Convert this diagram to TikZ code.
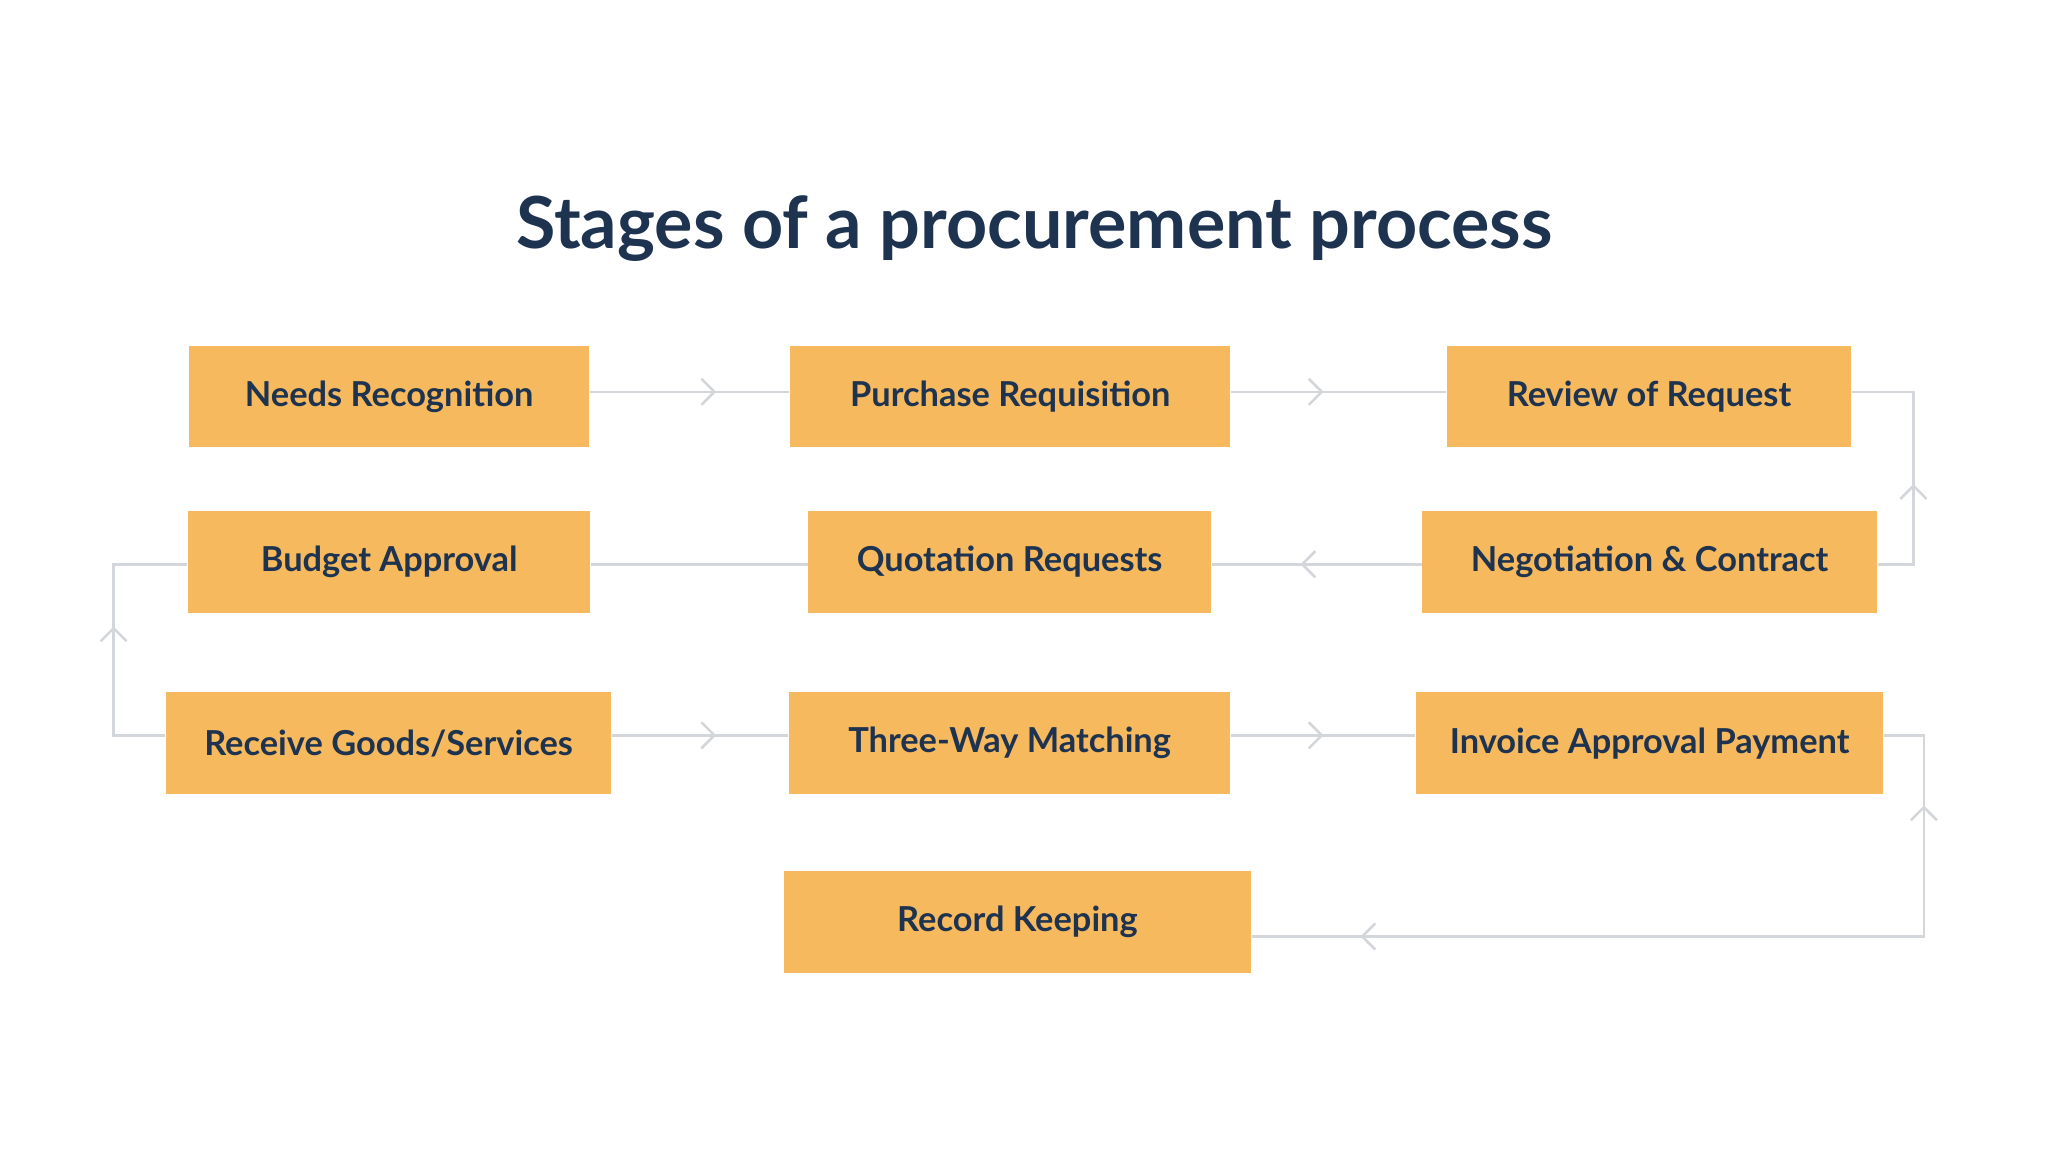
\documentclass[tikz,border=0pt]{standalone}
\usepackage{fontspec}
\setmainfont{Lato}
\definecolor{box}{HTML}{F6B95E}
\definecolor{txt}{HTML}{1E3350}
\definecolor{ln}{HTML}{D3D6DA}
\begin{document}
\begin{tikzpicture}[x=0.3pt,y=-0.3pt,
  b/.style={fill=box,draw=none,inner sep=0pt,text=txt,font=\fontsize{7.9}{9}\selectfont\bfseries},
  c/.style={draw=ln,line width=0.6pt},
  pics/chev/.style={code={\draw[ln,line width=0.6pt] (-6,-10)--(4,0)--(-6,10);}}]
\useasboundingbox (0,0) rectangle (1568,882);
\node[text=txt,font=\fontsize{16.5}{19}\selectfont\bfseries] (title) at (792,175) {Stages of a procurement process};
\newcommand\bx[6]{\node[b,minimum width={(#4-#2)*0.3pt},minimum height={(#5-#3)*0.3pt}] (#1) at ({(#2+#4)/2},{(#3+#5)/2}) {#6};}
\bx{n1}{145}{265}{451}{342}{Needs Recognition}
\bx{n2}{605}{265}{942}{342}{Purchase Requisition}
\bx{n3}{1108}{265}{1417}{342}{Review of Request}
\bx{n4}{144}{391}{452}{469}{Budget Approval}
\bx{n5}{619}{391}{927}{469}{Quotation Requests}
\bx{n6}{1089}{391}{1437}{469}{Negotiation \& Contract}
\bx{n7}{127}{530}{468}{608}{Receive Goods/Services}
\bx{n8}{604}{530}{942}{608}{Three-Way Matching}
\bx{n9}{1084}{530}{1442}{608}{Invoice Approval Payment}
\bx{n10}{600}{667}{958}{745}{Record Keeping}
\coordinate (a1) at (1465,300); \coordinate (a2) at (1465,432);
\coordinate (b1) at (87,432); \coordinate (b2) at (87,563);
\coordinate (d1) at (1473,563); \coordinate (d2) at (1473,717);
\draw[c] (n1.east|-0,300) -- (n2.west|-0,300);
\draw[c] (n2.east|-0,300) -- (n3.west|-0,300);
\draw[c] (n3.east|-0,300) -- (a1) -- (a2) -- (n6.east|-0,432);
\draw[c] (n6.west|-0,432) -- (n5.east|-0,432);
\draw[c] (n5.west|-0,432) -- (n4.east|-0,432);
\draw[c] (n4.west|-0,432) -- (b1) -- (b2) -- (n7.west|-0,563);
\draw[c] (n7.east|-0,563) -- (n8.west|-0,563);
\draw[c] (n8.east|-0,563) -- (n9.west|-0,563);
\draw[c] (n9.east|-0,563) -- (d1) -- (d2) -- (n10.east|-0,717);
\pic at (543,300) {chev}; \pic at (1008,300) {chev};
\pic[rotate=90] at (1465,376) {chev};
\pic[rotate=180] at (1001,432) {chev};
\pic[rotate=90] at (87,485) {chev};
\pic at (543,563) {chev}; \pic at (1008,563) {chev};
\pic[rotate=90] at (1473,622) {chev};
\pic[rotate=180] at (1047,717) {chev};
\end{tikzpicture}
\end{document}
